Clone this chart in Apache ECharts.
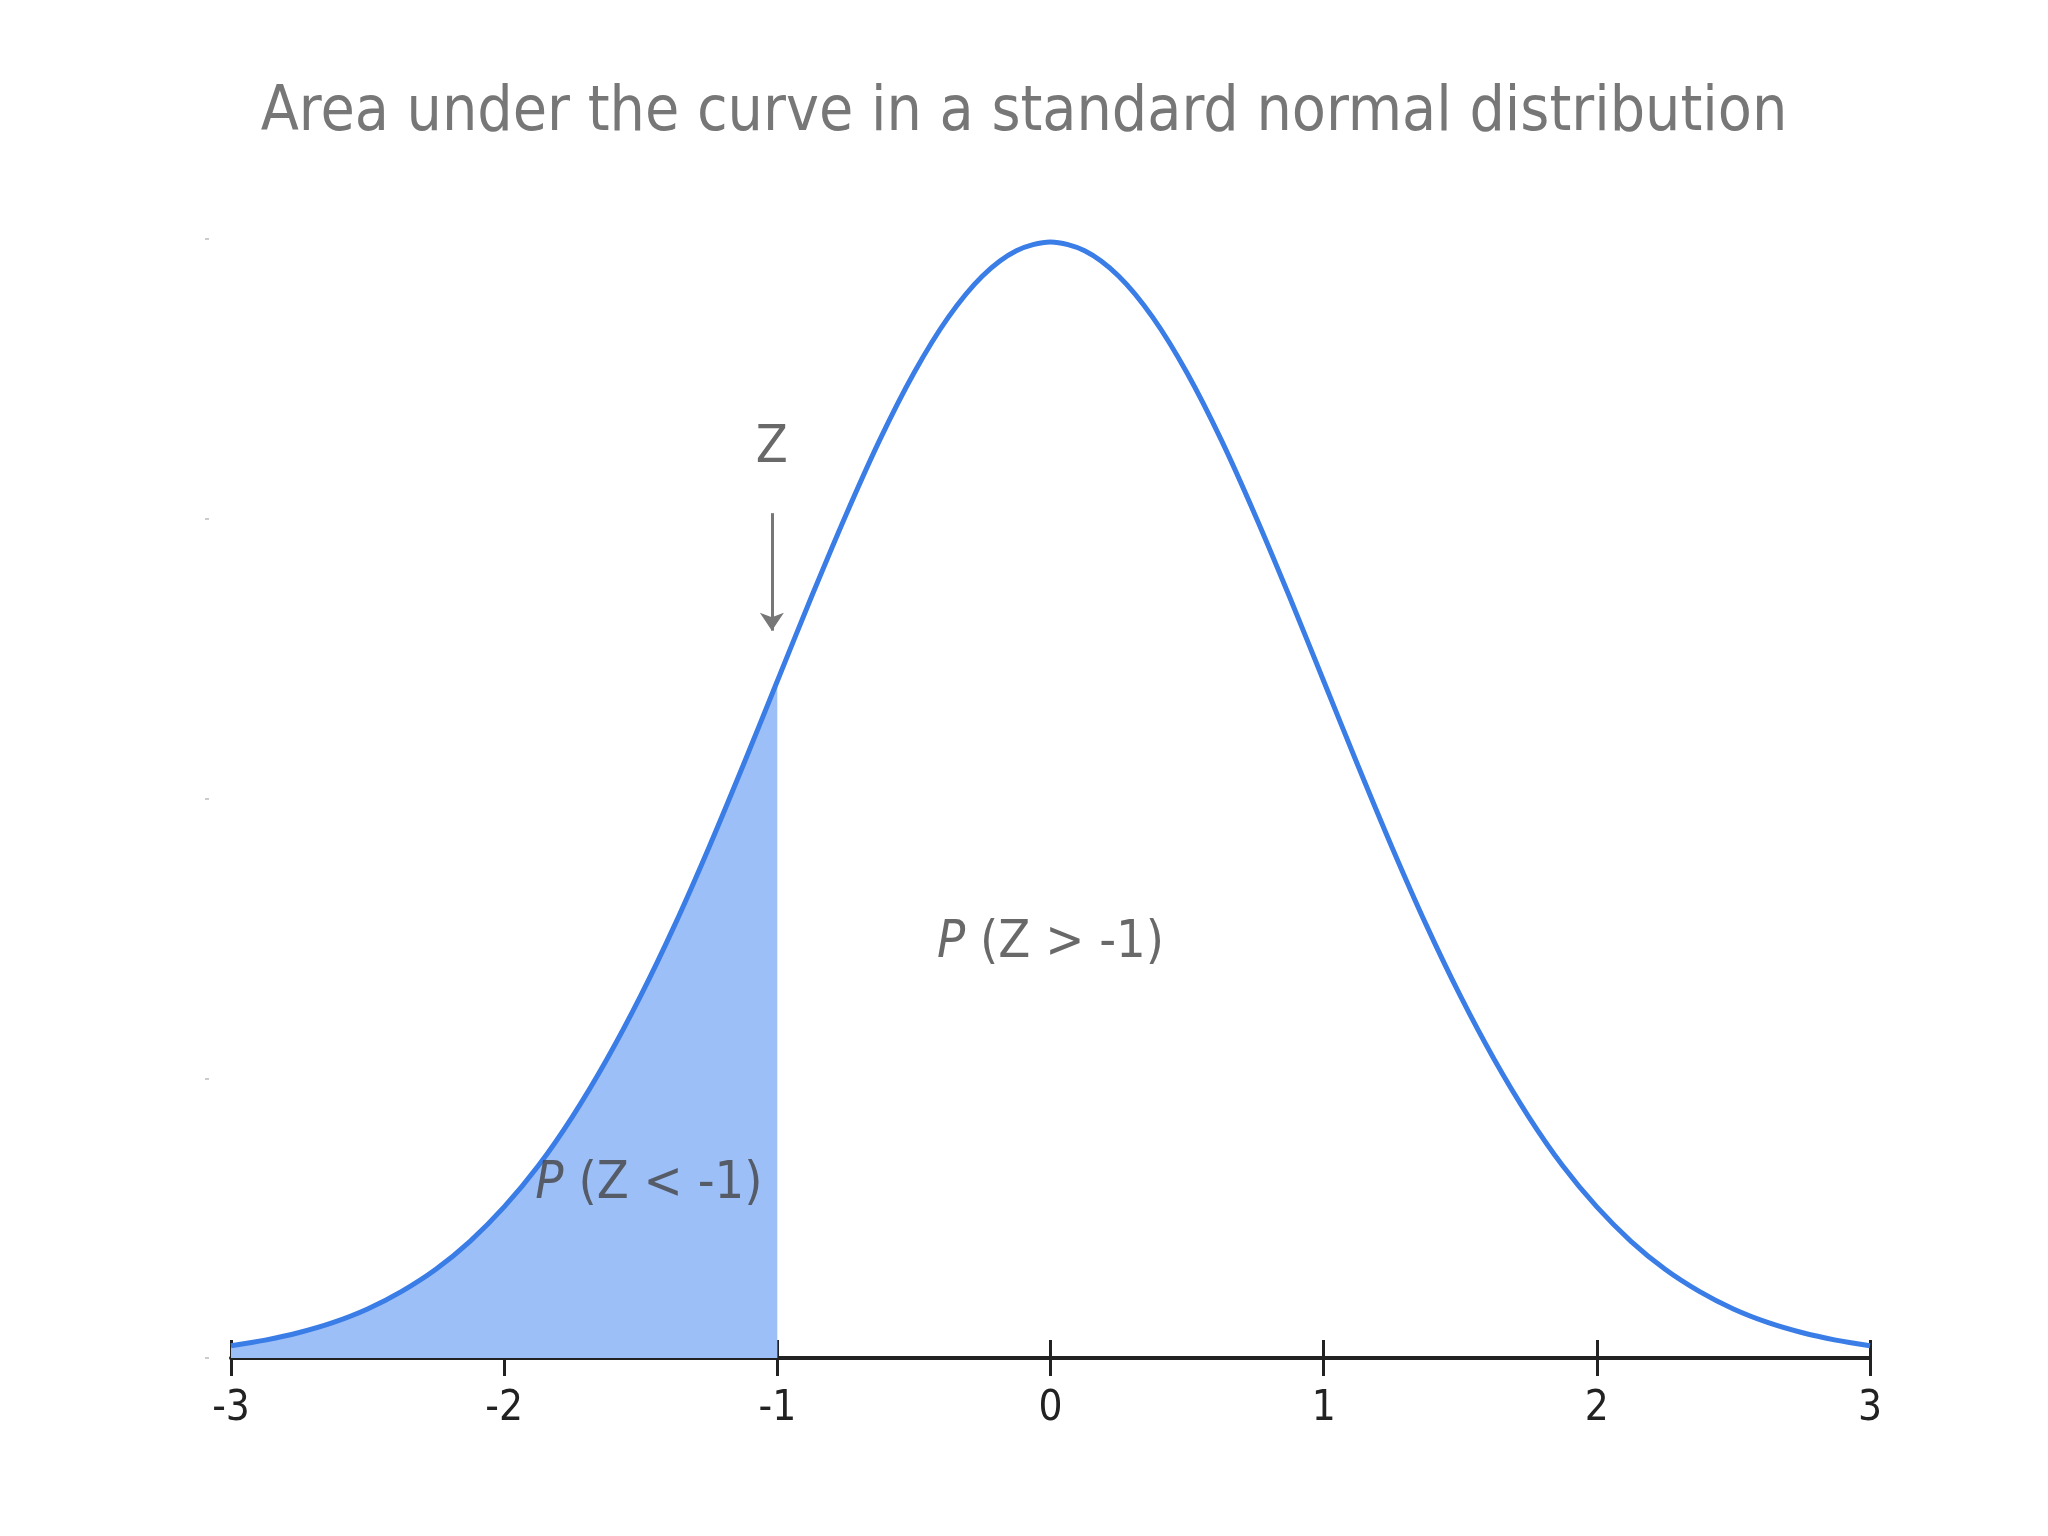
<!DOCTYPE html>
<html>
<head>
<meta charset="utf-8">
<script src="https://cdn.jsdelivr.net/npm/echarts@6/dist/echarts.min.js"></script>
<style>html,body{margin:0;background:#fff}#chart{width:2048px;height:1536px}</style>
</head>
<body>
<div id="chart"></div>
<script>
const chart = echarts.init(document.getElementById("chart"));

// values
const xs = [-3, -2.875, -2.75, -2.625, -2.5, -2.375, -2.25, -2.125, -2, -1.875, -1.75, -1.625, -1.5, -1.375, -1.25, -1.125,
	-1, -0.875, -0.75, -0.625, -0.5, -0.375, -0.25, -0.125, 0,
	0.125, 0.25, 0.375, 0.5, 0.625, 0.75, 0.875, 1, 1.125, 1.25, 1.375, 1.5, 1.625, 1.75, 1.875,
	2, 2.125, 2.25, 2.375, 2.5, 2.625, 2.75, 2.875, 3];
const ys = [0.0044, 0.0064, 0.0091, 0.0127, 0.0175, 0.0238, 0.0317, 0.0417, 0.054, 0.0687, 0.0863, 0.1066, 0.1295, 0.1549, 0.1826, 0.2119,
	0.242, 0.2721, 0.3011, 0.3282, 0.3521, 0.3719, 0.3867, 0.3958, 0.3989,
	0.3958, 0.3867, 0.3719, 0.3521, 0.3282, 0.3011, 0.2721, 0.242, 0.2119, 0.1826, 0.1549, 0.1295, 0.1066, 0.0863, 0.0687,
	0.054, 0.0417, 0.0317, 0.0238, 0.0175, 0.0127, 0.0091, 0.0064, 0.0044];
const cut = -1;
const tickLabels = ["-3", "-2", "-1", "0", "1", "2", "3"];
const notes = [
	{ text: "Z", at: [-1.02, 0.325] },
	{ text: "{i|P} (Z > -1)", at: [0, 0.148] },
	{ text: "{i|P} (Z < -1)", at: [-1.47, 0.062] }
];
const arrow = [[-1.02, 0.302], [-1.02, 0.26]];

const curve = xs.map((x, i) => [x, ys[i]]);
const tail = curve.filter(p => p[0] <= cut);

const font = "'DejaVu Sans Condensed', 'Liberation Sans Narrow', sans-serif";

option = {
	backgroundColor: "#fff",
	title: {
		text: "Area under the curve in a standard normal distribution",
		left: "center",
		top: 78,
		textStyle: { fontFamily: font, fontSize: 62, fontWeight: "normal", color: "#777" }
	},
	grid: { left: 231, right: 178, top: 239, bottom: 178 },
	xAxis: [{
		type: "value", min: -3, max: 3, interval: 1,
		splitLine: { show: false },
		axisLine: { lineStyle: { color: "#222", width: 4 } },
		axisTick: { length: 18, lineStyle: { color: "#222", width: 3 } },
		axisLabel: {
			margin: 30, fontFamily: font, fontSize: 42, color: "#222",
			formatter: v => tickLabels[Math.round(v) + 3]
		}
	}, {
		type: "value", min: -3, max: 3, interval: 1, position: "bottom",
		splitLine: { show: false }, axisLabel: { show: false },
		axisLine: { show: false },
		axisTick: { inside: true, length: 18, lineStyle: { color: "#222", width: 3 } }
	}],
	yAxis: {
		type: "value", min: 0, max: 0.4, interval: 0.1, offset: 22,
		splitLine: { show: false }, axisLabel: { show: false },
		axisLine: { show: false, onZero: false },
		axisTick: { length: 4, lineStyle: { color: "#ccc", width: 2 } }
	},
	series: [{
		type: "line", data: tail, smooth: 0.3, symbol: "none",
		lineStyle: { width: 0 },
		areaStyle: { color: "#9cbff8", opacity: 1 },
		z: 1
	}, {
		type: "line", data: curve, smooth: 0.3, symbol: "none",
		lineStyle: { color: "#3a7de6", width: 5 },
		z: 3,
		markLine: {
			silent: true, symbol: ["none", "arrow"], symbolSize: 18,
			label: { show: false },
			lineStyle: { color: "#777", width: 3, type: "solid" },
			data: [[{ coord: arrow[0] }, { coord: arrow[1] }]]
		}
	}, {
		type: "scatter", symbolSize: 0, z: 5,
		data: notes.map(n => ({
			value: n.at,
			label: {
				show: true, position: "inside", formatter: n.text,
				fontFamily: font, fontSize: 52, color: "#444",
				rich: { i: { fontFamily: font, fontSize: 52, fontStyle: "italic", color: "#444" } }
			}
		}))
	}]
};

chart.setOption(option);
window.onresize = chart.resize;
</script>
</body>
</html>
